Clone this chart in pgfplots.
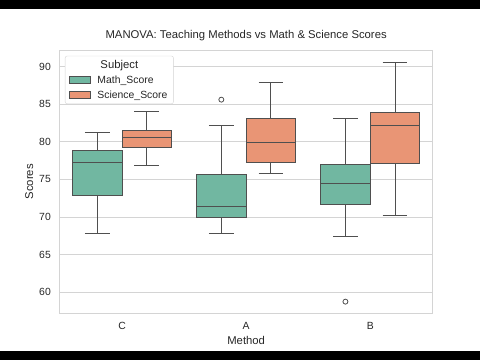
\documentclass[border=0pt]{standalone}
\usepackage{fontspec}
\setmainfont{Liberation Sans}
\usepackage{pgfplots}
\pgfplotsset{compat=1.18}
\definecolor{mteal}{HTML}{71B7A1}
\definecolor{morange}{HTML}{E99575}
\definecolor{lgray}{HTML}{4F4F4F}
\definecolor{gridc}{HTML}{D4D4D4}
\definecolor{txt}{HTML}{262626}
\begin{document}
\begin{tikzpicture}
\useasboundingbox (0,0) rectangle (480pt,360pt);
\fill[black] (0,0) rectangle (480pt,9.3pt);
\fill[black] (0,351pt) rectangle (480pt,360pt);
\begin{axis}[
  at={(60pt,46.7pt)}, anchor=south west,
  scale only axis, width=372.3pt, height=263.3pt,
  xmin=-0.5, xmax=2.5, ymin=57.2, ymax=92.2,
  xtick={0,1,2}, xticklabels={C,A,B},
  ytick={60,65,70,75,80,85,90},
  ymajorgrids, grid style={draw=gridc, line width=0.8pt},
  axis line style={draw=gridc, line width=1pt},
  major tick length=0pt,
  unbounded coords=jump,
  tick label style={font=\fontsize{10.4}{12}\selectfont, text=txt},
  /pgf/number format/assume math mode=true,
  xticklabel style={anchor=base, yshift=-16.4pt},
  yticklabel style={anchor=east, inner sep=0pt, xshift=-9pt},
  title={MANOVA: Teaching Methods vs Math \& Science Scores},
  title style={at={(axis description cs:0.5,1)}, anchor=base, yshift=6pt, font=\fontsize{11.3}{13}\selectfont, text=txt},
  xlabel={Method},
  xlabel style={at={(axis description cs:0.5,0)}, anchor=base, yshift=-30.7pt, font=\fontsize{11.3}{13}\selectfont, text=txt},
  ylabel={Scores},
  ylabel style={at={(axis description cs:-0.0725,0.5)}, anchor=base, font=\fontsize{11.3}{13}\selectfont, text=txt},
  legend style={at={(axis description cs:0.0134,0.978)}, anchor=north west, draw=gridc, fill=white, rounded corners=2pt,
    font=\fontsize{10.4}{12}\selectfont, text=txt, cells={anchor=west}, row sep=2pt, inner xsep=4pt, inner ysep=2pt},
  legend image code/.code={\draw[sharp corners,#1] (0pt,-3.5pt) rectangle (21pt,3.5pt); \path (25.5pt,0pt);},
]
\addlegendimage{empty legend}
\addlegendentry{\hspace{3pt}\fontsize{11.3}{13}\selectfont Subject}
\addlegendimage{fill=mteal, draw=lgray, line width=0.8pt}
\addlegendentry{Math\_Score}
\addlegendimage{fill=morange, draw=lgray, line width=0.8pt}
\addlegendentry{Science\_Score}
% whiskers and caps (all boxes)
\addplot[forget plot, draw=lgray, line width=1pt] coordinates {
 % C math
 (-0.2,78.8) (-0.2,81.3) (nan,nan) (-0.3,81.3) (-0.1,81.3) (nan,nan)
 (-0.2,72.8) (-0.2,67.85) (nan,nan) (-0.3,67.85) (-0.1,67.85) (nan,nan)
 % C science
 (0.2,81.5) (0.2,84.0) (nan,nan) (0.1,84.0) (0.3,84.0) (nan,nan)
 (0.2,79.3) (0.2,76.9) (nan,nan) (0.1,76.9) (0.3,76.9) (nan,nan)
 % A math
 (0.8,75.6) (0.8,82.2) (nan,nan) (0.7,82.2) (0.9,82.2) (nan,nan)
 (0.8,69.9) (0.8,67.85) (nan,nan) (0.7,67.85) (0.9,67.85) (nan,nan)
 % A science
 (1.2,83.1) (1.2,87.9) (nan,nan) (1.1,87.9) (1.3,87.9) (nan,nan)
 (1.2,77.2) (1.2,75.8) (nan,nan) (1.1,75.8) (1.3,75.8) (nan,nan)
 % B math
 (1.8,77.0) (1.8,83.1) (nan,nan) (1.7,83.1) (1.9,83.1) (nan,nan)
 (1.8,71.6) (1.8,67.4) (nan,nan) (1.7,67.4) (1.9,67.4) (nan,nan)
 % B science
 (2.2,83.9) (2.2,90.6) (nan,nan) (2.1,90.6) (2.3,90.6) (nan,nan)
 (2.2,77.05) (2.2,70.2) (nan,nan) (2.1,70.2) (2.3,70.2)
};
% boxes (Q1 to Q3)
\addplot[forget plot, fill=mteal, draw=lgray, line width=1pt] coordinates {(-0.4,72.8) (0,72.8) (0,78.8) (-0.4,78.8)} --cycle;
\addplot[forget plot, fill=morange, draw=lgray, line width=1pt] coordinates {(0,79.3) (0.4,79.3) (0.4,81.5) (0,81.5)} --cycle;
\addplot[forget plot, fill=mteal, draw=lgray, line width=1pt] coordinates {(0.6,69.9) (1.0,69.9) (1.0,75.6) (0.6,75.6)} --cycle;
\addplot[forget plot, fill=morange, draw=lgray, line width=1pt] coordinates {(1.0,77.2) (1.4,77.2) (1.4,83.1) (1.0,83.1)} --cycle;
\addplot[forget plot, fill=mteal, draw=lgray, line width=1pt] coordinates {(1.6,71.6) (2.0,71.6) (2.0,77.0) (1.6,77.0)} --cycle;
\addplot[forget plot, fill=morange, draw=lgray, line width=1pt] coordinates {(2.0,77.05) (2.4,77.05) (2.4,83.9) (2.0,83.9)} --cycle;
% medians
\addplot[forget plot, draw=lgray, line width=1pt] coordinates {
 (-0.4,77.2) (0,77.2) (nan,nan)
 (0,80.6) (0.4,80.6) (nan,nan)
 (0.6,71.4) (1.0,71.4) (nan,nan)
 (1.0,79.9) (1.4,79.9) (nan,nan)
 (1.6,74.4) (2.0,74.4) (nan,nan)
 (2.0,82.2) (2.4,82.2)
};
% outliers
\addplot[forget plot, only marks, mark=o, mark size=2.5pt, draw=lgray, line width=0.8pt] coordinates {(0.8,85.6) (1.8,58.75)};
\end{axis}
\end{tikzpicture}
\end{document}
